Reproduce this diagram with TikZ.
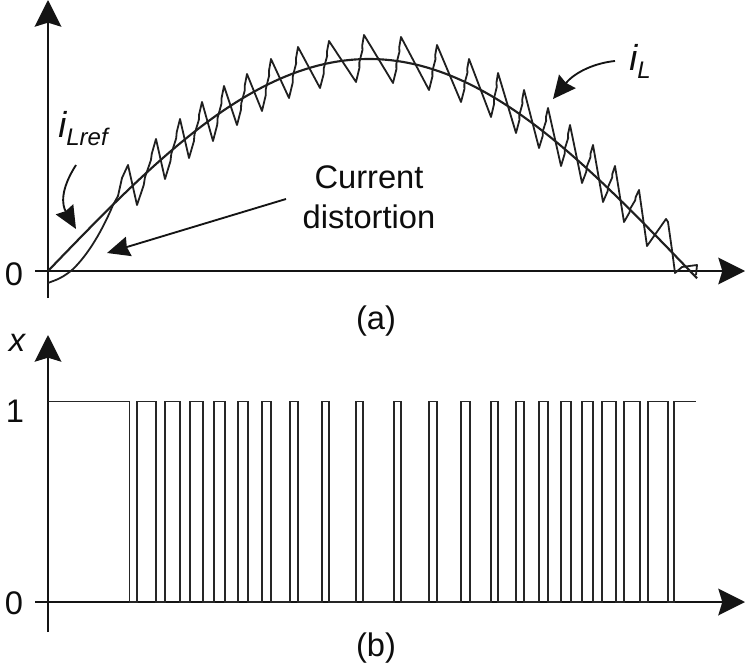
\documentclass[tikz,border=0pt]{standalone}
\usepackage{fontspec}
\setmainfont{Liberation Sans}
\usetikzlibrary{arrows.meta}
\tikzset{
  px/.style={x=0.75pt,y=-0.75pt},
  axisline/.style={line width=1.7pt,black!92,-{Stealth[length=20pt,width=20pt,inset=3pt]}},
  leader/.style={line width=1.4pt,black!92},
  wave/.style={line width=1.35pt,black!88,line join=round},
  pulse/.style={line width=1.25pt,black!85,line join=miter},
  txt/.style={font=\fontsize{24.5}{26}\selectfont,text=black!95,inner sep=0pt}
}
\newcommand{\subtxt}[1]{\raisebox{-6pt}{\fontsize{18}{20}\selectfont\itshape #1}}
\begin{document}
\begin{tikzpicture}[px]
\useasboundingbox (0,0) rectangle (755,670);
% anchors
\coordinate (aYb) at (48,298); \coordinate (aYt) at (48,0);
\coordinate (aXl) at (35,271); \coordinate (aXr) at (745,271);
\coordinate (bYb) at (48,632); \coordinate (bYt) at (48,335);
\coordinate (bXl) at (35,602); \coordinate (bXr) at (745,602);
\draw[axisline] (aYb) -- (aYt);
\draw[axisline] (aXl) -- (aXr);
\draw[axisline] (bYb) -- (bYt);
\draw[axisline] (bXl) -- (bXr);
% reference current
\draw[wave,line width=1.6pt,smooth] plot[domain=48:697,samples=90] ({\x},{271-212*sin(0.280374*(\x-48))});
% actual current
\draw[wave] (48,283) .. controls (52,281) and (60,280) .. (72,270)
  .. controls (85,258) and (100,236) .. (113,205) -- (118,196) -- (122,178) -- (128,165)
  \foreach \xa/\ya/\xb/\yb in {137/205/156/139,165/179/180/119,189/158/202/102,213/141/224/86,237/125/247/74,262/111/271/59,289/98/298/47,320/88/329/41,356/82/364/35,393/83/401/37,429/90/437/45,461/102/469/59,491/117/498/73,516/133/524/90,539/148/548/108,561/166/570/125,582/183/593/145,603/202/615/166,624/222/639/190}
  { -- (\xa,\ya) -- ({\xa+0.3*(\xb-\xa)+1},{\ya+0.3*(\yb-\ya)}) -- ({\xa+0.42*(\xb-\xa)},{\ya+0.42*(\yb-\ya)}) -- ({\xa+0.68*(\xb-\xa)+1},{\ya+0.68*(\yb-\ya)}) -- ({\xa+0.78*(\xb-\xa)},{\ya+0.78*(\yb-\ya)}) -- (\xb,\yb) }
  -- (647,246) -- (666,219) -- (668,222) -- (672,250) -- (675,273)
  -- (682,267) -- (697,265) -- (696,275);
% switching function
\draw[pulse] (48,401.5) -- (129.5,401.5) -- (129.5,602)
 \foreach \a/\b in {136.7/156,165/180,190/202.7,214/225,238/247.7,262/271,290/297.7,321.7/329.3,356/363.3,394/401,429.3/436.7,461/469.7,491/498,516.3/524.3,538.7/548.3,561/571,581.7/593.3,602.3/615.7,623.7/639.7,647.7/667.7}
 { -- (\a,602) -- (\a,401.5) -- (\b,401.5) -- (\b,602) }
 -- (674.3,602) -- (674.3,401.5) -- (696,401.5);
% labels
\node[txt] (cur) at (369,177) {Current};
\node[txt] (dis) at (369,217) {distortion};
\node[txt] (cA) at (376,321) {(a)};
\node[txt] (cB) at (376,648) {(b)};
\node[txt] (z1) at (14,274) {0};
\node[txt] (z2) at (14,603) {0};
\node[txt] (one) at (15,411) {1};
\node[txt,font=\fontsize{24.5}{26}\selectfont\itshape] (xl) at (17,343) {x};
\node[txt,font=\fontsize{27}{28}\selectfont\itshape] (ilr) at (83,129) {i\subtxt{Lref}};
\node[txt,font=\fontsize{27}{28}\selectfont\itshape] (il) at (640,61) {i\subtxt{L}};
% leaders
\coordinate (d1) at (286,199); \coordinate (d2) at (107,253);
\coordinate (r1) at (76,165); \coordinate (r2) at (76,229);
\coordinate (l1) at (615,61); \coordinate (l2) at (553,99);
\draw[leader,-{Stealth[length=17pt,width=15pt,inset=1.5pt]}] (d1) -- (d2);
\draw[leader,-{Stealth[length=17pt,width=15pt,inset=1.5pt]}] (r1) .. controls (60,190) and (62,205) .. (r2);
\draw[leader,-{Stealth[length=17pt,width=16pt,inset=1.5pt]}] (l1) .. controls (595,63) and (575,72) .. (l2);
\end{tikzpicture}
\end{document}
